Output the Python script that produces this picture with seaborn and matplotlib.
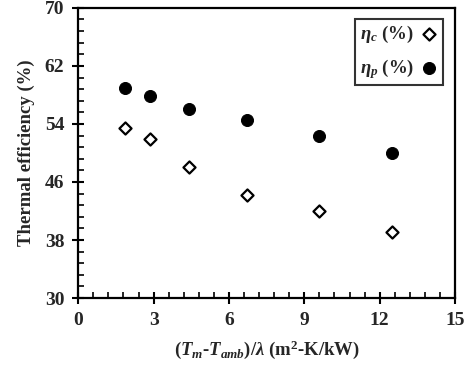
import matplotlib
matplotlib.use('Agg')
import matplotlib.pyplot as plt
import numpy as np
import pandas as pd
import seaborn as sns

# values
x_vals = [1.85, 2.85, 4.4, 6.7, 9.6, 12.5]
eta_c = [53.5, 51.9, 48.1, 44.2, 42.0, 39.1]
eta_p = [59.0, 57.9, 56.1, 54.6, 52.3, 50.0]
x_ticks = [0, 3, 6, 9, 12, 15]
y_ticks = [30, 38, 46, 54, 62, 70]

sns.set_style('ticks')
plt.rcParams['font.family'] = ['Liberation Serif', 'DejaVu Serif']
plt.rcParams['font.weight'] = 'bold'
plt.rcParams['mathtext.fontset'] = 'custom'
plt.rcParams['mathtext.rm'] = 'Liberation Serif:bold'
plt.rcParams['mathtext.it'] = 'Liberation Serif:italic:bold'
plt.rcParams['mathtext.bf'] = 'Liberation Serif:bold'

df = pd.DataFrame({'x': x_vals, 'eta_c': eta_c, 'eta_p': eta_p})

fig = plt.figure(figsize=(4.74, 3.74), dpi=100)
ax = fig.add_axes([0.165, 0.203, 0.795, 0.776])

sns.scatterplot(data=df, x='x', y='eta_c', ax=ax, marker='D', s=38,
                facecolor='white', edgecolor='black', linewidth=1.6,
                label=r'$\eta_c$ (%)', zorder=3)
sns.scatterplot(data=df, x='x', y='eta_p', ax=ax, marker='o', s=75,
                color='black', edgecolor='black',
                label=r'$\eta_p$ (%)', zorder=3)

ax.set_xlim(0, 15)
ax.set_ylim(30, 70)
ax.set_xticks(x_ticks)
ax.set_yticks(y_ticks)
ax.set_xticks(np.arange(0, 15.01, 0.6), minor=True)
ax.set_yticks(np.arange(30, 70.01, 1.6), minor=True)
ax.tick_params(which='major', direction='inout', length=8, width=1.5,
               labelsize=14, pad=6, color='black')
ax.tick_params(which='minor', direction='in', length=4, width=1.2, color='black')
for s in ax.spines.values():
    s.set_linewidth(1.6)
    s.set_color('black')

ax.set_xlabel(r'$(T_m$-$T_{amb})/\lambda$ (m$^2$-K/kW)', fontsize=13.5,
              fontweight='bold', labelpad=7)
ax.set_ylabel('Thermal efficiency (%)', fontsize=13.5, fontweight='bold', labelpad=7)

leg = ax.legend(loc='upper right', markerfirst=False, fancybox=False,
                frameon=True, fontsize=13.5, handletextpad=0.3, handlelength=1.0,
                borderpad=0.25, labelspacing=0.65, borderaxespad=0,
                bbox_to_anchor=(0.968, 0.962))
leg.get_frame().set_edgecolor('black')
leg.get_frame().set_linewidth(1.5)

fig.savefig('out.png', dpi=100)
